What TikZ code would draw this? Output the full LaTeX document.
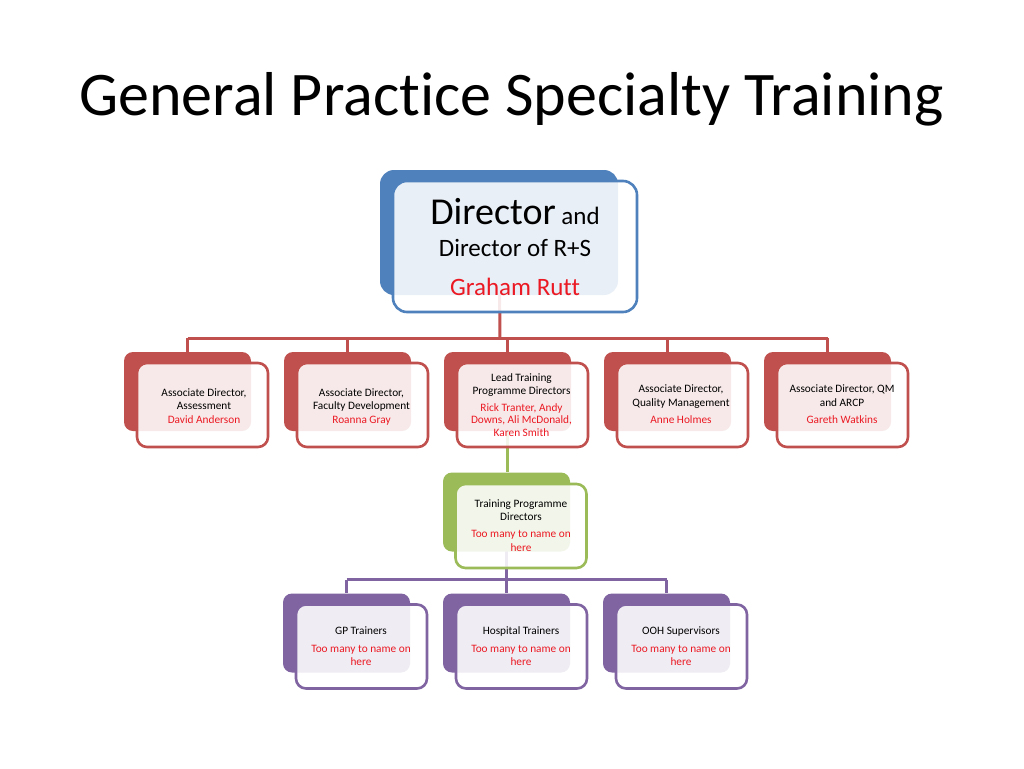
\documentclass[tikz,border=0pt]{standalone}
\usepackage{fontspec}
\setmainfont{Carlito}[Ligatures=NoCommon]
\definecolor{cblue}{RGB}{79,129,189}
\definecolor{cred}{RGB}{192,80,77}
\definecolor{cgreen}{RGB}{155,187,89}
\definecolor{cpurple}{RGB}{128,100,162}
\definecolor{tred}{RGB}{235,25,35}
\pgfdeclarelayer{bg}
\pgfsetlayers{bg,main}
\begin{document}
\begin{tikzpicture}[x=1pt,y=-1pt,
  backbox/.style={draw=none, fill=#1, rounded corners=9pt, minimum width=127pt, minimum height=79pt, inner sep=0pt},
  frontbox/.style={draw=#1, line width=2.6pt, fill=white, fill opacity=0.88, rounded corners=10pt, minimum width=131pt, minimum height=84pt, inner sep=0pt},
  conn/.style={draw=#1, line width=3pt},
  sm/.style={font=\fontsize{11.3}{13.3}\selectfont, align=center, inner sep=0pt, anchor=base},
  ttl/.style={font=\fontsize{62}{70}\selectfont, inner sep=0pt, anchor=base},
  big/.style={font=\fontsize{25}{32.7}\selectfont, align=center, inner sep=0pt, anchor=base}
]
\useasboundingbox (0,0) rectangle (1024,768);

\node[ttl] (title) at (511.5,115) {General Practice Specialty Training};

% top box
\node[backbox=cblue, minimum width=238pt, minimum height=125pt, rounded corners=14pt] (topB) at (499,232.5) {};
\node[frontbox=cblue, minimum width=244pt, minimum height=131pt, rounded corners=14pt] (topF) at (515,246.5) {};
\node[big] (topT) at (515,295) {{\fontsize{38}{38}\selectfont Director} and\\ Director of R+S\\[5.6pt] \textcolor{tred}{Graham Rutt}};

% red level
\node[backbox=cred] (b1) at (187.5,391.5) {};
\node[frontbox=cred] (f1) at (202.5,405) {};
\node[backbox=cred] (b2) at (347.5,391.5) {};
\node[frontbox=cred] (f2) at (362.5,405) {};
\node[backbox=cred] (b3) at (507.5,391.5) {};
\node[frontbox=cred] (f3) at (522.5,405) {};
\node[backbox=cred] (b4) at (667.5,391.5) {};
\node[frontbox=cred] (f4) at (682.5,405) {};
\node[backbox=cred] (b5) at (827.5,391.5) {};
\node[frontbox=cred] (f5) at (842.5,405) {};

\node[sm] (t1) at (204,423) {Associate Director,\\Assessment\\\textcolor{tred}{David Anderson}};
\node[sm] (t2) at (361.5,423) {Associate Director,\\Faculty Development\\\textcolor{tred}{Roanna Gray}};
\node[sm] (t3) at (521.5,436) {Lead Training\\Programme Directors\\[3.3pt]\textcolor{tred}{Rick Tranter, Andy}\\[-0.8pt]\textcolor{tred}{Downs, Ali McDonald,}\\[-0.8pt]\textcolor{tred}{Karen Smith}};
\node[sm] (t4) at (681,423.5) {Associate Director,\\Quality Management\\[4pt]\textcolor{tred}{Anne Holmes}};
\node[sm] (t5) at (842,423.5) {Associate Director, QM\\and ARCP\\[4pt]\textcolor{tred}{Gareth Watkins}};

% green level
\node[backbox=cgreen] (gB) at (506.5,512) {};
\node[frontbox=cgreen] (gF) at (521,526) {};
\node[sm] (gT) at (521,551) {Training Programme\\Directors\\[4pt]\textcolor{tred}{Too many to name on}\\\textcolor{tred}{here}};

% purple level
\node[backbox=cpurple] (p1) at (346.5,633) {};
\node[frontbox=cpurple] (q1) at (361.5,646.5) {};
\node[backbox=cpurple] (p2) at (506.5,633) {};
\node[frontbox=cpurple] (q2) at (521.5,646.5) {};
\node[backbox=cpurple] (p3) at (666.5,633) {};
\node[frontbox=cpurple] (q3) at (681.5,646.5) {};
\node[sm] (s1) at (361,665) {GP Trainers\\[4.7pt]\textcolor{tred}{Too many to name on}\\[-1pt]\textcolor{tred}{here}};
\node[sm] (s2) at (521,665) {Hospital Trainers\\[4.7pt]\textcolor{tred}{Too many to name on}\\[-1pt]\textcolor{tred}{here}};
\node[sm] (s3) at (681,665) {OOH Supervisors\\[4.7pt]\textcolor{tred}{Too many to name on}\\[-1pt]\textcolor{tred}{here}};

\coordinate (rbus) at (500,338);
\coordinate (pbus) at (507,579.5);

\begin{pgfonlayer}{bg}
  \fill[white] (0,0) rectangle (1024,768);
  \draw[conn=cred] (topB.center) -- (rbus);
  \draw[conn=cred] (b1.north |- rbus) -- (b5.north |- rbus);
  \draw[conn=cred] (b1.north |- rbus) -- (b1.north);
  \draw[conn=cred] (b2.north |- rbus) -- (b2.north);
  \draw[conn=cred] (b3.north |- rbus) -- (b3.north);
  \draw[conn=cred] (b4.north |- rbus) -- (b4.north);
  \draw[conn=cred] (b5.north |- rbus) -- (b5.north);
  \draw[conn=cgreen] (b3.center) -- (b3.center |- gB.north);
  \draw[conn=cpurple] (gB.center) -- (gB.center |- pbus);
  \draw[conn=cpurple] (p1.north |- pbus) -- (p3.north |- pbus);
  \draw[conn=cpurple] (p1.north |- pbus) -- (p1.north);
  \draw[conn=cpurple] (p2.north |- pbus) -- (p2.north);
  \draw[conn=cpurple] (p3.north |- pbus) -- (p3.north);
\end{pgfonlayer}
\end{tikzpicture}
\end{document}
